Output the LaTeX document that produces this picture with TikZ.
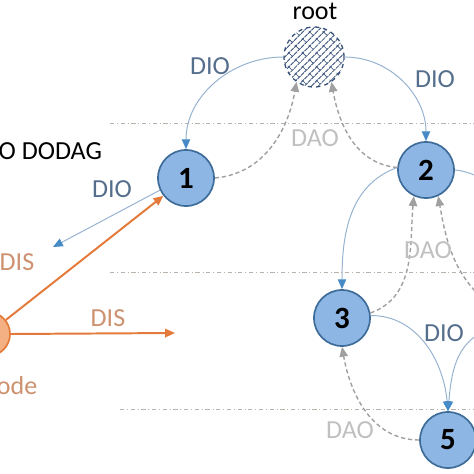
\documentclass[tikz,border=0pt]{standalone}
\usepackage{fontspec}
\setmainfont{Carlito}
\usepackage{xcolor}
\usetikzlibrary{arrows.meta, patterns.meta}

\definecolor{nodefill}{RGB}{142,182,228}
\definecolor{nodeline}{RGB}{62,108,152}
\definecolor{rootline}{RGB}{52,78,120}
\definecolor{dioline}{RGB}{150,178,208}
\definecolor{diohead}{RGB}{70,138,198}
\definecolor{diotext}{RGB}{84,110,140}
\definecolor{daoline}{RGB}{160,160,160}
\definecolor{daotext}{RGB}{192,192,192}
\definecolor{disline}{RGB}{228,122,58}
\definecolor{distext}{RGB}{205,145,112}
\definecolor{joinfill}{RGB}{244,176,130}
\definecolor{sepline}{RGB}{185,178,170}

\begin{document}
\begin{tikzpicture}[
    x=0.025cm, y=0.025cm,
    font=\fontsize{18.5}{21}\selectfont,
    mote/.style = {circle, draw=nodeline, line width=1.2pt, fill=nodefill, minimum size=1.4cm, inner sep=0pt, font=\fontsize{22}{24}\selectfont\bfseries},
    sink/.style = {circle, draw=rootline, dashed, line width=0.9pt, minimum size=1.5cm, inner sep=0pt,
        preaction={pattern={Lines[angle=-45, distance=7pt, line width=0.4pt]}, pattern color=rootline},
        pattern={Lines[angle=45, distance=3.5pt, line width=0.6pt]}, pattern color=rootline},
    joiner/.style = {circle, draw=disline, line width=1.2pt, fill=joinfill, minimum size=1.1cm, inner sep=0pt},
    dio/.style = {draw=dioline, line width=0.7pt, -{Triangle[length=7pt, width=6pt, color=diohead]}},
    dao/.style = {draw=daoline, line width=1pt, dash pattern=on 3pt off 2pt, -{Triangle[length=7pt, width=6pt, color=daoline]}},
    dis/.style = {draw=disline, line width=1.4pt, -{Triangle[length=7pt, width=6pt]}},
    sep/.style = {draw=sepline, line width=0.6pt, dash pattern=on 3pt off 2pt on 0.6pt off 2pt},
    lbl/.style = {inner sep=1pt},
    diotxt/.style = {lbl, text=diotext},
    daotxt/.style = {lbl, text=daotext},
    distxt/.style = {lbl, text=distext}
]
    \useasboundingbox (0,0) rectangle (474,-474);
    \clip (0,0) rectangle (474,-474);

    % rank separators
    \draw[sep] (110,-123) -- (474,-123);
    \draw[sep] (110,-272) -- (474,-272);
    \draw[sep] (120,-409) -- (474,-409);

    % nodes
    \node[sink] (root) at (314,-57) {};
    \node[lbl] (rootlbl) at (315,-11) {root};
    \node[mote] (n1) at (186,-178) {1};
    \node[mote] (n2) at (426,-170) {2};
    \node[mote] (n3) at (342,-318) {3};
    \node[mote] (n4) at (515,-320) {}; % lies outside the frame
    \node[mote] (n5) at (448,-440) {5};
    \node[joiner] (newnode) at (-12,-334) {};
    \node[anchor=east, distxt] (newlbl) at (39,-386) {node};
    \node[anchor=west, lbl] (dodag) at (-3,-151) {O DODAG};

    \coordinate (dioend) at (53,-247);
    \coordinate (disend) at (175,-333);

    % DIO
    \draw[dio] (root.west) to[out=180, in=90] (n1.north);
    \draw[dio] (root.east) to[out=0, in=90] (n2.north);
    \draw[dio] (n1.205) -- (dioend);
    \draw[dio] (n2.175) to[out=200, in=90] (n3.north);
    \draw[dio] (n2.east) to[out=-5, in=90] (n4.north);
    \draw[dio] (n3.5) to[out=0, in=95] (n5.north);
    \draw[dio] (n4.200) to[out=200, in=85] (n5.north);

    % DAO
    \draw[dao] (n1.east) to[out=5, in=-100] (root.-125);
    \draw[dao] (n2.175) to[out=175, in=-80] (root.-55);
    \draw[dao] (n3.10) to[out=20, in=-95] (n2.-115);
    \draw[dao] (n4.150) to[out=140, in=-80] (n2.-65);
    \draw[dao] (n5.west) to[out=180, in=-80] (n3.south);

    % DIS
    \draw[dis] (newnode) -- (n1);
    \draw[dis] (newnode.east) -- (disend);

    % labels
    \node[diotxt] (l1) at (210,-66) {DIO};
    \node[diotxt] (l2) at (435,-79) {DIO};
    \node[diotxt] (l3) at (112,-189) {DIO};
    \node[diotxt] (l4) at (444,-333) {DIO};
    \node[daotxt] (l5) at (315,-138) {DAO};
    \node[daotxt] (l6) at (428,-250) {DAO};
    \node[daotxt] (l7) at (350,-430) {DAO};
    \node[distxt] (l8) at (17,-262) {DIS};
    \node[distxt] (l9) at (108,-318) {DIS};
\end{tikzpicture}
\end{document}
